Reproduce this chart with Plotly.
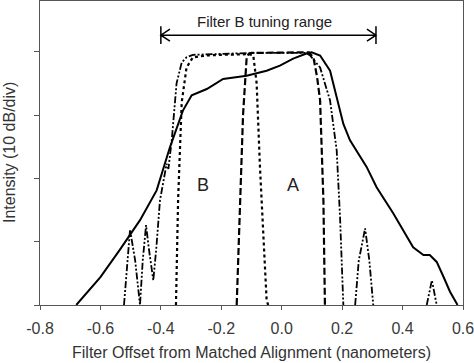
import plotly.graph_objects as go

# ---- data (x: nm offset, y: dB relative, 10 dB per division) ----
solid_x = [-0.68, -0.646, -0.60, -0.536, -0.469, -0.414, -0.37, -0.327, -0.298, -0.248,
           -0.194, -0.116, -0.05, -0.006, 0.038, 0.082, 0.099, 0.127, 0.16, 0.171,
           0.204, 0.226, 0.259, 0.281, 0.314, 0.369, 0.435, 0.469, 0.49, 0.513,
           0.535, 0.557, 0.582]
solid_y = [0, 1.9, 4.4, 8.7, 13.4, 18.1, 24.9, 30.7, 33.1, 34.1,
           35.7, 36.2, 37.0, 37.8, 38.9, 39.7, 39.9, 39.4, 37.0, 34.9,
           28.6, 26.0, 23.4, 21.8, 18.6, 14.5, 9.1, 7.9, 7.9, 6.8,
           4.5, 2.1, 0]

filterB_x = [-0.35, -0.343, -0.331, -0.315, -0.294, -0.25, -0.2, -0.15, -0.11, -0.094,
             -0.083, -0.072, -0.061, -0.05, -0.045]
filterB_y = [0, 16.5, 32.0, 37.5, 39.1, 39.4, 39.5, 39.6, 39.6, 39.4,
             35.0, 21.8, 11.3, 0.8, 0]

filterA_x = [-0.149, -0.14, -0.128, -0.116, -0.11, -0.1, -0.05, 0.0, 0.05, 0.09,
             0.105, 0.117, 0.127, 0.133, 0.138, 0.143]
filterA_y = [0, 14.0, 30.0, 39.1, 39.6, 39.8, 39.8, 39.8, 39.8, 39.9,
             39.1, 36.0, 32.3, 24.0, 16.5, 0]

combo_x = [-0.522, -0.51, -0.502, -0.485, -0.469, -0.46, -0.449, -0.44, -0.425, -0.415,
           -0.403, -0.381, -0.375, -0.364, -0.348, -0.331, -0.315, -0.294, -0.2, -0.1,
           0.0, 0.08, 0.094, 0.127, 0.16, 0.182, 0.193, 0.204,
           None,
           0.243, 0.255, 0.276, 0.29, 0.303,
           None,
           0.48, 0.497, 0.513]
combo_y = [0, 8.0, 11.9, 7.0, 0, 7.0, 12.6, 9.0, 3.9, 9.0,
           16.5, 22.3, 21.5, 26.0, 35.0, 38.3, 39.1, 39.5, 39.7, 39.8,
           39.8, 39.8, 39.4, 37.5, 32.3, 24.4, 13.9, 0,
           None,
           0, 7.0, 12.1, 7.0, 0,
           None,
           0, 3.9, 0]

x_ticks = [-0.8, -0.6, -0.4, -0.2, 0.0, 0.2, 0.4, 0.6]
x_tick_labels = ["-0.8", "-0.6", "-0.4", "-0.2", "0.0", "0.2", "0.4", "0.6"]
y_ticks = [0, 10, 20, 30, 40]

tuning_range = [-0.40, 0.312]
tuning_level = 42.6
label_B = (-0.26, 18.9)
label_A = (0.038, 18.9)

fig = go.Figure()
fig.add_trace(go.Scatter(x=solid_x, y=solid_y, mode="lines",
                         line=dict(color="black", width=2), showlegend=False))
fig.add_trace(go.Scatter(x=filterB_x, y=filterB_y, mode="lines",
                         line=dict(color="black", width=2.2, dash="dot"), showlegend=False))
fig.add_trace(go.Scatter(x=filterA_x, y=filterA_y, mode="lines",
                         line=dict(color="black", width=2.2, dash="7px,3px"), showlegend=False))
fig.add_trace(go.Scatter(x=combo_x, y=combo_y, mode="lines", connectgaps=False,
                         line=dict(color="black", width=1.8, dash="7px,2px,2px,2px,2px,2px"),
                         showlegend=False))

# tuning range arrow (open chevrons and end bars)
x0, x1 = tuning_range
yl = tuning_level
dx, dy, by = 0.03, 0.95, 1.4
path = (f"M {x0},{yl} L {x1},{yl} "
        f"M {x0},{yl-by} L {x0},{yl+by} M {x1},{yl-by} L {x1},{yl+by} "
        f"M {x0+dx},{yl+dy} L {x0},{yl} L {x0+dx},{yl-dy} "
        f"M {x1-dx},{yl+dy} L {x1},{yl} L {x1-dx},{yl-dy}")
fig.add_shape(type="path", path=path, xref="x", yref="y",
              line=dict(color="black", width=1.5))

fig.add_annotation(x=(x0 + x1) / 2 - 0.014, y=44.8, text="Filter B tuning range",
                   showarrow=False, font=dict(size=15, color="#222"), yanchor="middle")
fig.add_annotation(x=label_B[0], y=label_B[1], text="B", showarrow=False,
                   font=dict(size=18, color="#222"))
fig.add_annotation(x=label_A[0], y=label_A[1], text="A", showarrow=False,
                   font=dict(size=18, color="#222"))

# axis titles
fig.add_annotation(xref="paper", yref="paper", x=0.5, y=0, yshift=-47,
                   text="Filter Offset from Matched Alignment (nanometers)",
                   showarrow=False, font=dict(size=16, color="#333"), yanchor="middle")
fig.add_annotation(xref="paper", yref="paper", x=0, y=0.5, xshift=-31,
                   text="Intensity (10 dB/div)", textangle=-90,
                   showarrow=False, font=dict(size=16, color="#333"), xanchor="center")

fig.update_layout(
    width=474, height=363,
    margin=dict(l=40, r=11, t=1, b=58),
    paper_bgcolor="white", plot_bgcolor="white",
    font=dict(family="Liberation Sans, Arial, sans-serif", color="#333"),
    xaxis=dict(range=[-0.8, 0.6], tickvals=x_ticks, ticktext=x_tick_labels,
               showgrid=False, zeroline=False, showline=True, linecolor="#555",
               linewidth=1.2, mirror=True, ticks="outside", ticklen=4, tickcolor="#555",
               tickfont=dict(size=16, color="#3a3a3a"), ticklabelstandoff=5,
               ticklabeloverflow="allow"),
    yaxis=dict(range=[0, 48], tickvals=y_ticks, showticklabels=False,
               showgrid=False, zeroline=False, showline=True, linecolor="#555",
               linewidth=1.2, mirror=True, ticks="outside", ticklen=5, tickcolor="#555"),
)

fig.write_html("out.html", config={"displayModeBar": False},
               post_script="document.body.style.margin='0';document.body.style.overflow='hidden';")
